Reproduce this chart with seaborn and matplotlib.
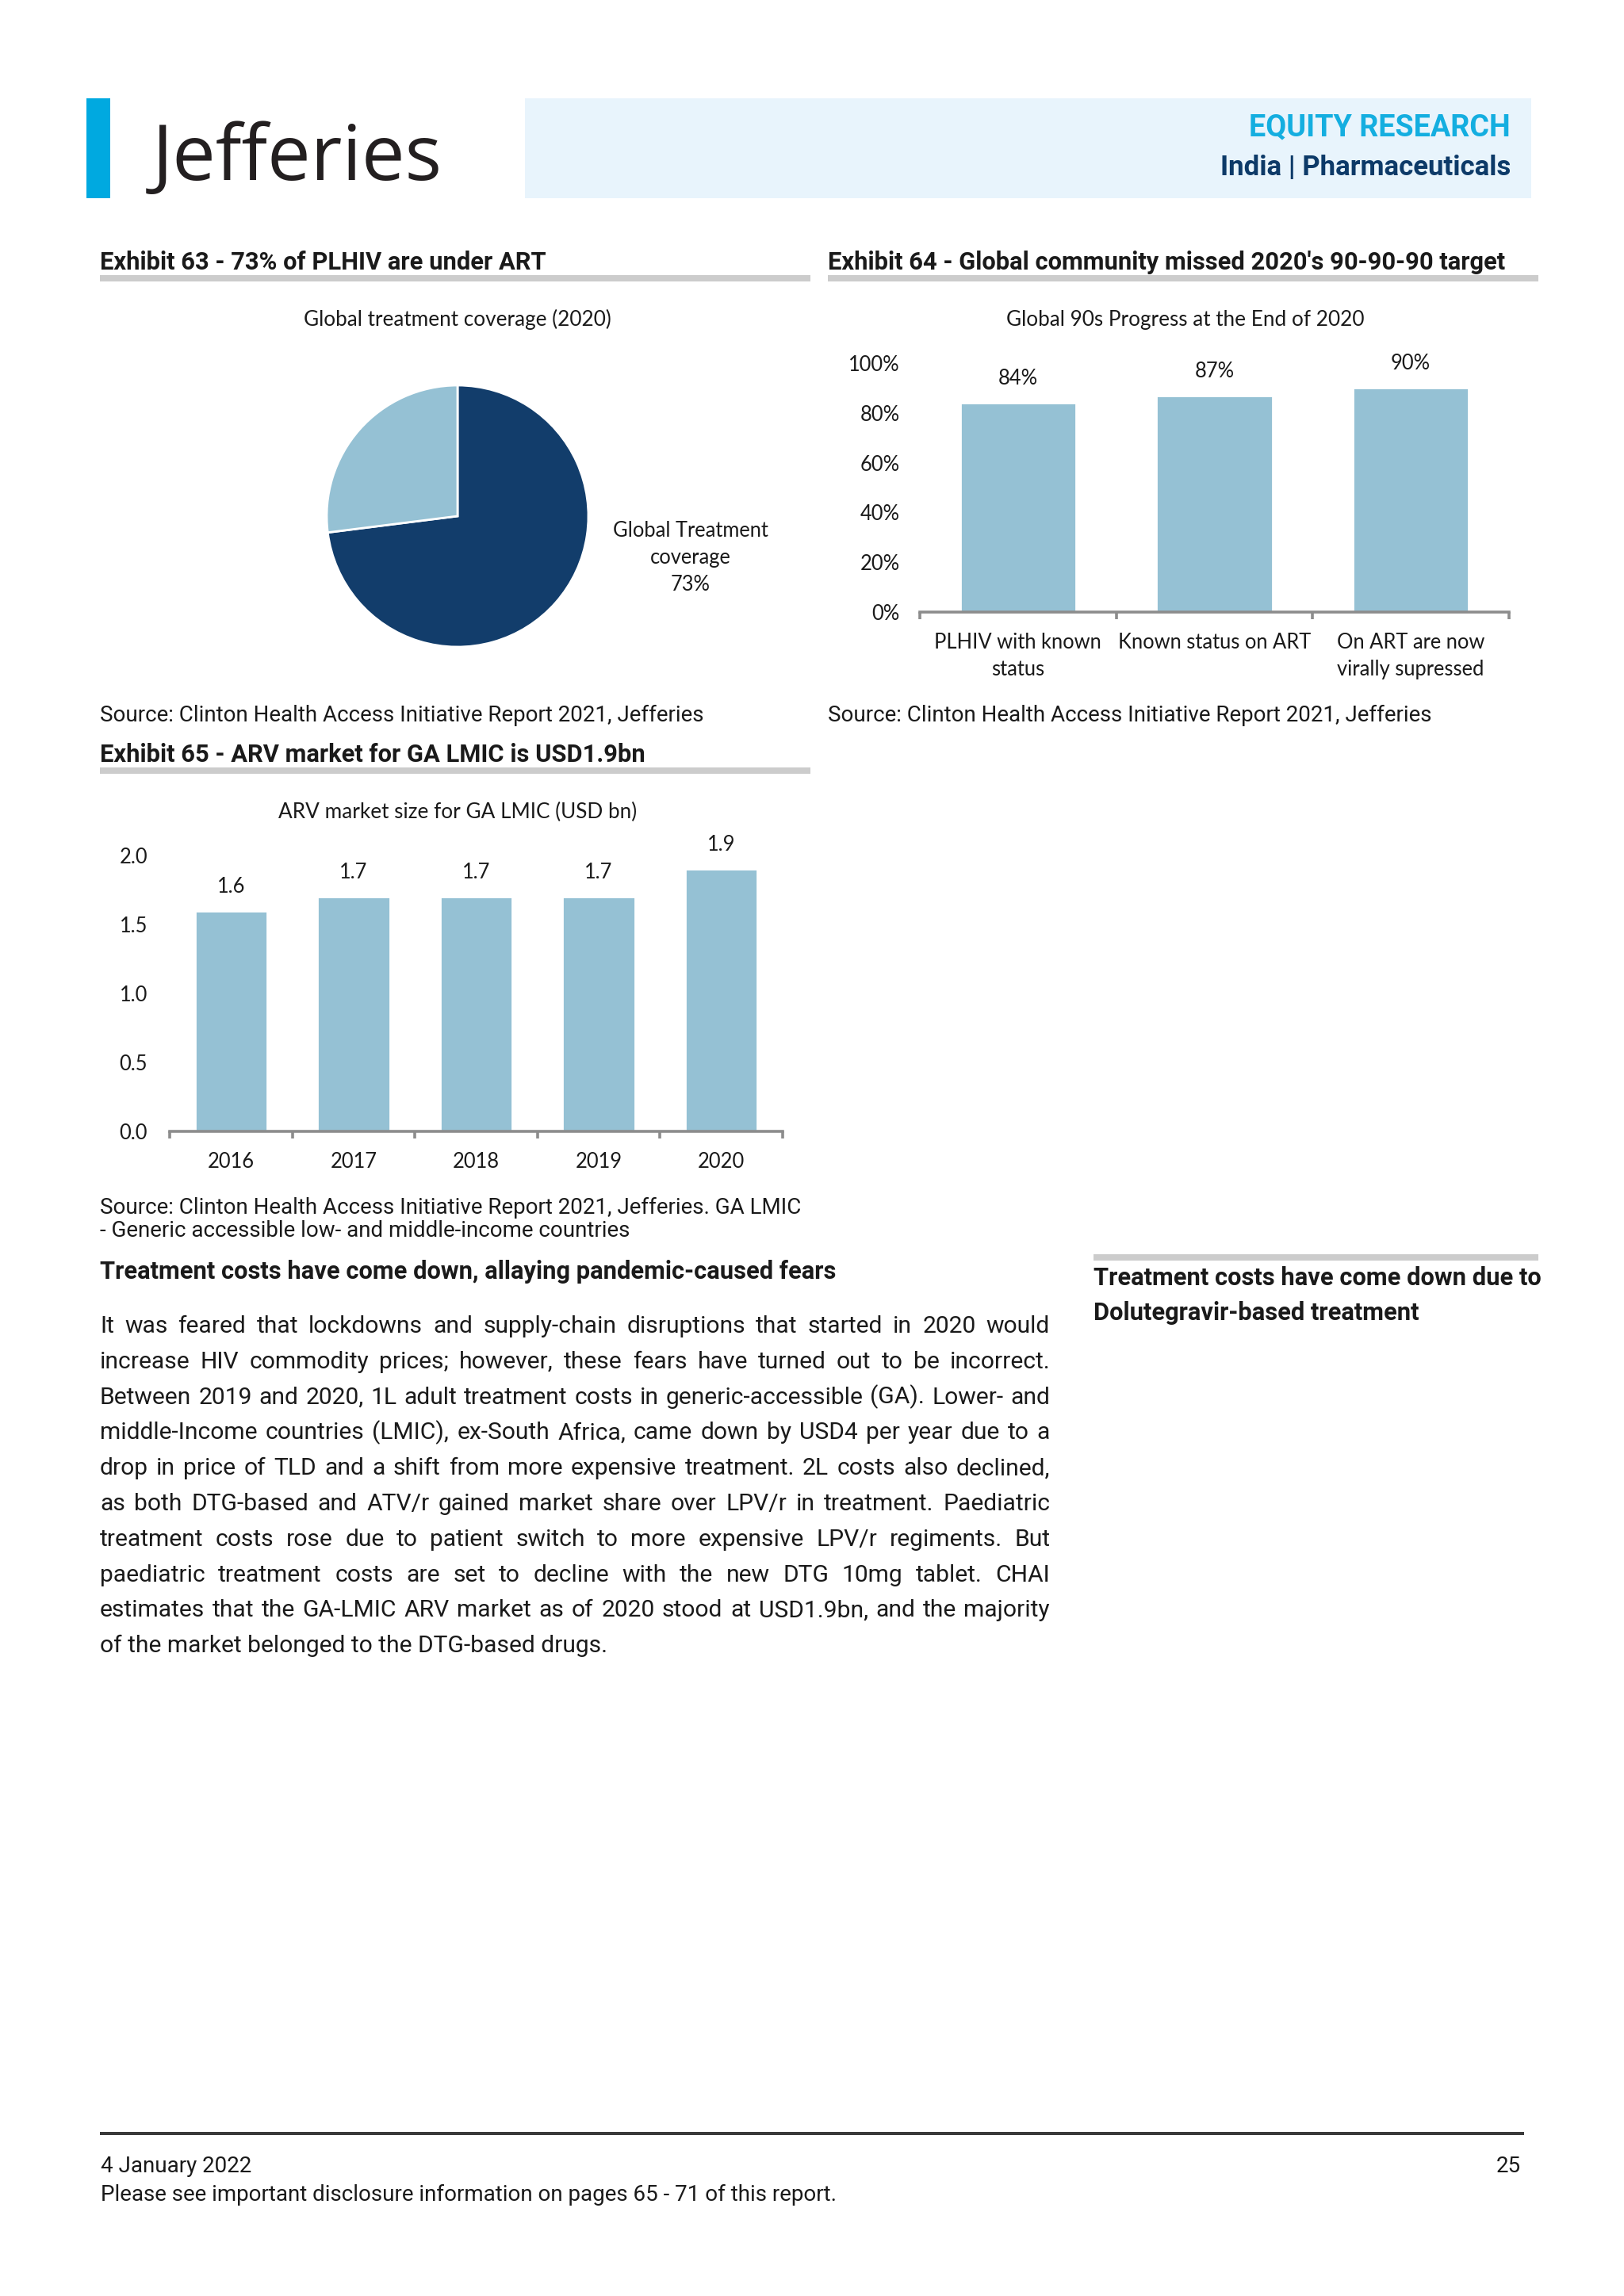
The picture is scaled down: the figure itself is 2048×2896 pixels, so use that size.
import numpy as np
import pandas as pd
import seaborn as sns
import matplotlib.pyplot as plt
from matplotlib.patches import Rectangle

# ---- data ----
pie_labels = ["Global Treatment\ncoverage\n73%", ""]
pie_values = [73, 27]

prog_cats = ["PLHIV with known\nstatus", "Known status on ART", "On ART are now\nvirally supressed"]
prog_vals = [0.84, 0.87, 0.90]
prog_ticks = [0, 0.2, 0.4, 0.6, 0.8, 1.0]

arv_years = ["2016", "2017", "2018", "2019", "2020"]
arv_vals = [1.6, 1.7, 1.7, 1.7, 1.9]
arv_ticks = [0.0, 0.5, 1.0, 1.5, 2.0]

para = [
    "It was feared that lockdowns and supply-chain disruptions that started in 2020 would",
    "increase HIV commodity prices; however, these fears have turned out to be incorrect.",
    "Between 2019 and 2020, 1L adult treatment costs in generic-accessible (GA). Lower- and",
    "middle-Income countries (LMIC), ex-South Africa, came down by USD4 per year due to a",
    "drop in price of TLD and a shift from more expensive treatment. 2L costs also declined,",
    "as both DTG-based and ATV/r gained market share over LPV/r in treatment. Paediatric",
    "treatment costs rose due to patient switch to more expensive LPV/r regiments. But",
    "paediatric treatment costs are set to decline with the new DTG 10mg tablet. CHAI",
    "estimates that the GA-LMIC ARV market as of 2020 stood at USD1.9bn, and the majority",
    "of the market belonged to the DTG-based drugs.",
]

W, H, DPI = 2048, 2896, 200
BAR = "#95C1D4"
NAVY = "#123D6B"
INK = "#1a1a1a"
CHART_FONT = ["Lato", "DejaVu Sans"]
TEXT_FONT = ["Roboto", "DejaVu Sans"]
CFS = 9.2      # chart text size
HFS = 11.1     # bold headings
SFS = 10       # sources / footer
PFS = 10.8     # paragraph
LSP = 1.45     # line spacing of wrapped chart labels

sns.set_theme(style="white")
plt.rcParams["font.family"] = TEXT_FONT

fig = plt.figure(figsize=(W / DPI, H / DPI), dpi=DPI, facecolor="white")


def box(x0, y0, x1, y1):
    return [x0 / W, 1 - y1 / H, (x1 - x0) / W, (y1 - y0) / H]


def txt(x, y, s, **kw):
    return fig.text(x / W, 1 - y / H, s, **kw)


def rect(x0, y0, x1, y1, c):
    fig.add_artist(Rectangle((x0 / W, 1 - y1 / H), (x1 - x0) / W, (y1 - y0) / H,
                             transform=fig.transFigure, color=c, lw=0))


# ---- header ----
rect(109, 124, 139, 250, "#00A9E0")
txt(192, 227, "Jefferies", fontsize=35, family=["Open Sans", "DejaVu Sans"], color="#231F20", va="baseline")
rect(662, 124, 1931, 250, "#E8F4FC")
txt(1905, 161, "EQUITY RESEARCH", fontsize=13.6, weight="bold", color="#14AEE0", ha="right", va="center")
txt(1905, 212, "India | Pharmaceuticals", fontsize=12.5, weight="bold", color="#0D3A68", ha="right", va="center")

# ---- exhibit headers ----
txt(126, 331, "Exhibit 63 - 73% of PLHIV are under ART", fontsize=HFS, weight="bold", color=INK, va="center")
rect(126, 347, 1022, 355, "#CCCCCC")
txt(1044, 331, "Exhibit 64 - Global community missed 2020's 90-90-90 target", fontsize=HFS, weight="bold", color=INK, va="center")
rect(1044, 347, 1940, 355, "#CCCCCC")
txt(126, 952, "Exhibit 65 - ARV market for GA LMIC is USD1.9bn", fontsize=HFS, weight="bold", color=INK, va="center")
rect(126, 968, 1022, 976, "#CCCCCC")

# ---- exhibit 63: pie ----
ax1 = fig.add_axes(box(412, 486, 742, 816))
ax1.pie(pie_values, colors=[NAVY, BAR], startangle=90, counterclock=False, radius=1)
ax1.set_xlim(-1, 1)
ax1.set_ylim(-1, 1)
ax1.set_aspect("equal")
ax1.text(1.78, -0.32, pie_labels[0], ha="center", va="center", fontsize=CFS,
         family=CHART_FONT, color=INK, linespacing=LSP, clip_on=False)
txt(577, 403, "Global treatment coverage (2020)", fontsize=9.4, family=CHART_FONT, color=INK, ha="center", va="center")
txt(126, 902, "Source: Clinton Health Access Initiative Report 2021, Jefferies", fontsize=SFS, color=INK, va="center")


def style_bars(ax, n, ticks, fmt, pad_y):
    ax.set_xlim(-0.5, n - 0.5)
    ax.set_ylim(ticks[0], ticks[-1])
    for s in ["top", "right", "left"]:
        ax.spines[s].set_visible(False)
    ax.spines["bottom"].set_color("#8C8C8C")
    ax.spines["bottom"].set_linewidth(1.3)
    ax.set_xticks(np.arange(-0.5, n, 1.0), minor=True)
    ax.tick_params(axis="x", which="minor", length=3.3, width=1.3, color="#8C8C8C", direction="out", bottom=True)
    ax.tick_params(axis="x", which="major", length=0, pad=9.5, labelsize=CFS, labelcolor=INK)
    ax.set_yticks(ticks)
    ax.set_yticklabels([fmt(t) for t in ticks])
    ax.tick_params(axis="y", length=0, pad=pad_y, labelsize=CFS, labelcolor=INK)
    for lab in ax.get_xticklabels() + ax.get_yticklabels():
        lab.set_family(CHART_FONT)
        lab.set_linespacing(LSP)
    ax.set_xlabel("")
    ax.set_ylabel("")
    ax.set_facecolor("none")


# ---- exhibit 64: bars ----
ax2 = fig.add_axes(box(1160, 458, 1903, 772))
df2 = pd.DataFrame({"cat": prog_cats, "val": prog_vals})
sns.barplot(data=df2, x="cat", y="val", color=BAR, saturation=1, width=0.59, errorbar=None, ax=ax2)
style_bars(ax2, len(prog_cats), prog_ticks, lambda t: f"{t:.0%}", 9)
ax2.bar_label(ax2.containers[0], labels=[f"{v:.0%}" for v in prog_vals], padding=6.5,
              fontsize=CFS, family=CHART_FONT, color=INK)
txt(1495, 403, "Global 90s Progress at the End of 2020", fontsize=9.4, family=CHART_FONT, color=INK, ha="center", va="center")
txt(1044, 902, "Source: Clinton Health Access Initiative Report 2021, Jefferies", fontsize=SFS, color=INK, va="center")

# ---- exhibit 65: bars ----
ax3 = fig.add_axes(box(214, 1079, 987, 1427))
df3 = pd.DataFrame({"year": arv_years, "val": arv_vals})
sns.barplot(data=df3, x="year", y="val", color=BAR, saturation=1, width=0.59, errorbar=None, ax=ax3)
style_bars(ax3, len(arv_years), arv_ticks, lambda t: f"{t:.1f}", 10)
ax3.bar_label(ax3.containers[0], labels=[f"{v:.1f}" for v in arv_vals], padding=6.5,
              fontsize=CFS, family=CHART_FONT, color=INK)
txt(577, 1024, "ARV market size for GA LMIC (USD bn)", fontsize=9.4, family=CHART_FONT, color=INK, ha="center", va="center")
txt(126, 1523, "Source: Clinton Health Access Initiative Report 2021, Jefferies. GA LMIC", fontsize=SFS, color=INK, va="center")
txt(126, 1552, "- Generic accessible low- and middle-income countries", fontsize=SFS, color=INK, va="center")

# ---- body text ----
txt(126, 1604, "Treatment costs have come down, allaying pandemic-caused fears", fontsize=HFS, weight="bold", color=INK, va="center")

renderer = fig.canvas.get_renderer()
x0, x1 = 126, 1324
for i, line in enumerate(para):
    y = 1681 + i * 44.8
    if i == len(para) - 1:
        txt(x0, y, line, fontsize=PFS, color=INK, va="baseline")
        continue
    words = line.split()
    widths = []
    for w in words:
        t = fig.text(0, 0, w, fontsize=PFS)
        widths.append(t.get_window_extent(renderer).width)
        t.remove()
    gap = (x1 - x0 - sum(widths)) / (len(words) - 1)
    x = x0
    for w, wd in zip(words, widths):
        txt(x, y, w, fontsize=PFS, color=INK, va="baseline")
        x += wd + gap

rect(1379, 1582, 1940, 1590, "#CCCCCC")
txt(1379, 1612, "Treatment costs have come down due to", fontsize=HFS, weight="bold", color=INK, va="center")
txt(1379, 1656, "Dolutegravir-based treatment", fontsize=HFS, weight="bold", color=INK, va="center")

# ---- footer ----
rect(126, 2689, 1922, 2693, "#3A3A3A")
txt(127, 2733, "4 January 2022", fontsize=SFS, color=INK, va="center")
txt(1918, 2733, "25", fontsize=SFS, color=INK, ha="right", va="center")
txt(127, 2768, "Please see important disclosure information on pages 65 - 71 of this report.", fontsize=SFS, color=INK, va="center")

fig.savefig("out.png", dpi=DPI, facecolor="white")
